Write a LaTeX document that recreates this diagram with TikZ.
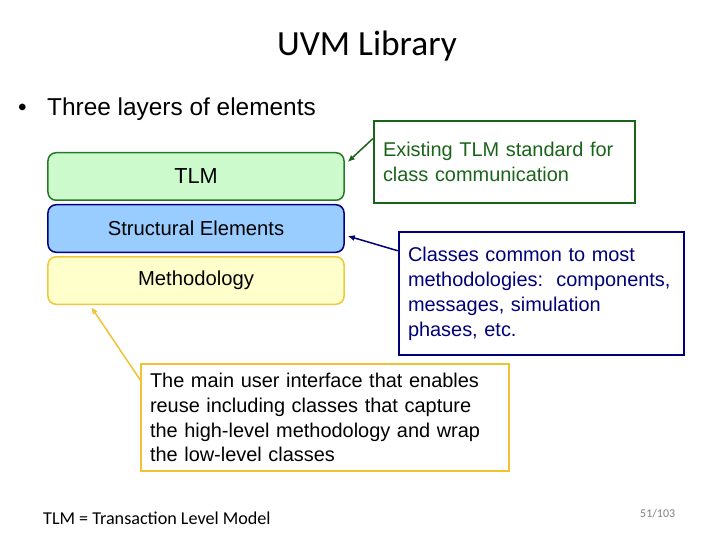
\documentclass[tikz,border=0pt]{standalone}
\usepackage{fontspec}
\setmainfont{Liberation Sans}
\newfontfamily\slidefont{Carlito}
\usetikzlibrary{positioning,calc,arrows.meta}

\begin{document}
\begin{tikzpicture}[x=1bp,y=-1bp,
    layer/.style={draw,line width=1.5bp,rounded corners=8bp,minimum width=296bp,
      minimum height=47.5bp,font=\fontsize{20.3}{24}\selectfont},
    note/.style={draw,line width=2.5bp,inner xsep=9bp,inner ysep=0pt,align=left,
      font=\fontsize{20}{25}\selectfont},
    pointer/.style={line width=1.5bp,-{Latex[length=7bp,width=6bp]}}]
  \definecolor{kTlmFill}{RGB}{204,250,204}
  \definecolor{kTlmLine}{RGB}{40,120,40}
  \definecolor{kStrFill}{RGB}{153,204,255}
  \definecolor{kStrLine}{RGB}{0,0,128}
  \definecolor{kMetFill}{RGB}{255,255,204}
  \definecolor{kMetLine}{RGB}{240,200,60}
  \definecolor{kGreen}{RGB}{25,100,25}
  \definecolor{kNavy}{RGB}{0,0,120}
  \definecolor{kGold}{RGB}{240,195,50}

  \useasboundingbox (0,0) rectangle (720,540);

  % heading
  \node (title) at (367,46) {\slidefont\fontsize{35.5}{42}\selectfont UVM Library};
  \node[anchor=west,inner sep=0pt] (intro) at (18,109)
    {\fontsize{24.5}{29}\selectfont\makebox[29bp][l]{•}Three layers of elements};

  % layers
  \node[layer,draw=kTlmLine,fill=kTlmFill] (tlm) at (196,176.5)
    {\fontsize{21.8}{26}\selectfont TLM};
  \node[layer,draw=kStrLine,fill=kStrFill,below=3bp of tlm] (struct) {Structural Elements};
  \node[layer,draw=kMetLine,fill=kMetFill,below=3bp of struct] (meth) {Methodology};

  % callouts
  \node[note,draw=kGreen,text=kGreen,text width=243bp,minimum height=82bp] (exist)
    at (504.5,162) {Existing TLM standard for\\class communication};
  \node[note,draw=kNavy,text=kNavy,text width=267bp,minimum height=123bp] (common)
    at (541.5,293.5) {Classes common to most\\methodologies:\ \ components,\\messages, simulation\\phases, etc.};
  \node[note,draw=kGold,text width=350bp,minimum height=107bp] (user)
    at (325,417.5) {The main user interface that enables\\reuse including classes that capture\\the high-level methodology and wrap\\the low-level classes};

  \draw[pointer,kGreen] ($(exist.north west)+(0,19)$) -- ($(tlm.north east)+(3,10)$);
  \draw[pointer,kNavy] ($(common.north west)+(0,20)$) -- ($(struct.east)+(3,7.5)$);
  \draw[pointer,kGold] ($(user.north west)+(1,18)$) -- ($(meth.south west)+(44,2)$);

  % footer
  \node[anchor=west,inner sep=0pt] (foot) at (43,518)
    {\slidefont\fontsize{18.2}{22}\selectfont TLM = Transaction Level Model};
  \node[anchor=west,inner sep=0pt,text=gray] (page) at (640,514)
    {\slidefont\fontsize{12}{14}\selectfont 51/103};
\end{tikzpicture}
\end{document}
